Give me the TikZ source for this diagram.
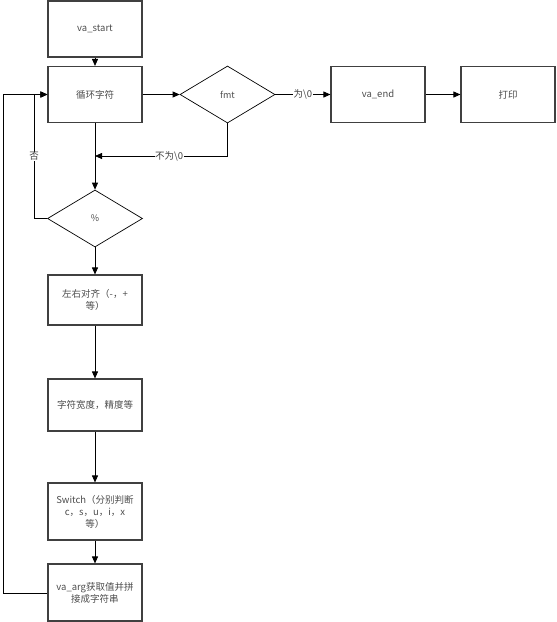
\documentclass[tikz,border=0pt]{standalone}
\usepackage{fontspec}
\newfontfamily\cjk{Noto Sans CJK SC}
\usetikzlibrary{arrows.meta,shapes.geometric}
\begin{document}
\begin{tikzpicture}[x=1pt,y=-1pt,
  box/.style={draw=black!75,line width=1.1pt,minimum width=94pt,minimum height=56pt,inner sep=2pt,align=center,text=black!70,font=\cjk\fontsize{9.5}{12}\selectfont},
  dia/.style={draw=black,line width=0.7pt,diamond,aspect=1.67,minimum width=95pt,minimum height=57pt,inner sep=0pt,text=black!70,font=\cjk\fontsize{9}{11}\selectfont},
  conn/.style={draw=black,line width=0.8pt,-{Triangle[length=7pt,width=6pt]}},
  lab/.style={fill=white,inner sep=0.5pt,text=black!75,font=\cjk\fontsize{9.5}{11}\selectfont}]
\useasboundingbox (0,0) rectangle (557,622);
\node[box] (start) at (95,29) {va\_start};
\node[box] (loop) at (95,94.5) {循环字符};
\node[dia] (fmt) at (227.5,94.5) {fmt};
\node[box] (end) at (378,94.5) {va\_end};
\node[box] (print) at (508,94.5) {打印};
\node[dia] (pct) at (95,218.5) {\%};
\node[box,minimum height=50pt] (align) at (95,300) {左右对齐（-，+\\等）};
\node[box,minimum height=52pt] (width) at (95,405) {字符宽度，精度等};
\node[box,minimum height=57pt] (sw) at (95,511.5) {Switch（分别判断\\c，s，u，i，x\\等）};
\node[box,minimum height=57pt] (arg) at (95,592.5) {va\_arg获取值并拼\\接成字符串};
\coordinate (j1) at (95,156);
\coordinate (n1) at (34,218.5);
\coordinate (n2) at (34,94.5);
\coordinate (o1) at (3,593);
\coordinate (o2) at (3,94.5);
\draw[conn] (start) -- (loop);
\draw[conn] (loop) -- (fmt);
\draw[conn] (fmt) -- node[lab]{为\textbackslash 0} (end);
\draw[conn] (end) -- (print);
\draw[conn] (fmt.south) |- node[lab,pos=0.72]{不为\textbackslash 0} (j1);
\draw[conn] (loop) -- (pct);
\draw[conn] (pct.west) -- (n1) -- node[lab,pos=0.5]{否} (n2) -- (loop.west);
\draw[conn] (pct) -- (align);
\draw[conn] (align) -- (width);
\draw[conn] (width) -- (sw);
\draw[conn] (sw) -- (arg);
\draw[conn] (arg.west |- o1) -- (o1) -- (o2) -- (loop.west);
\end{tikzpicture}
\end{document}
